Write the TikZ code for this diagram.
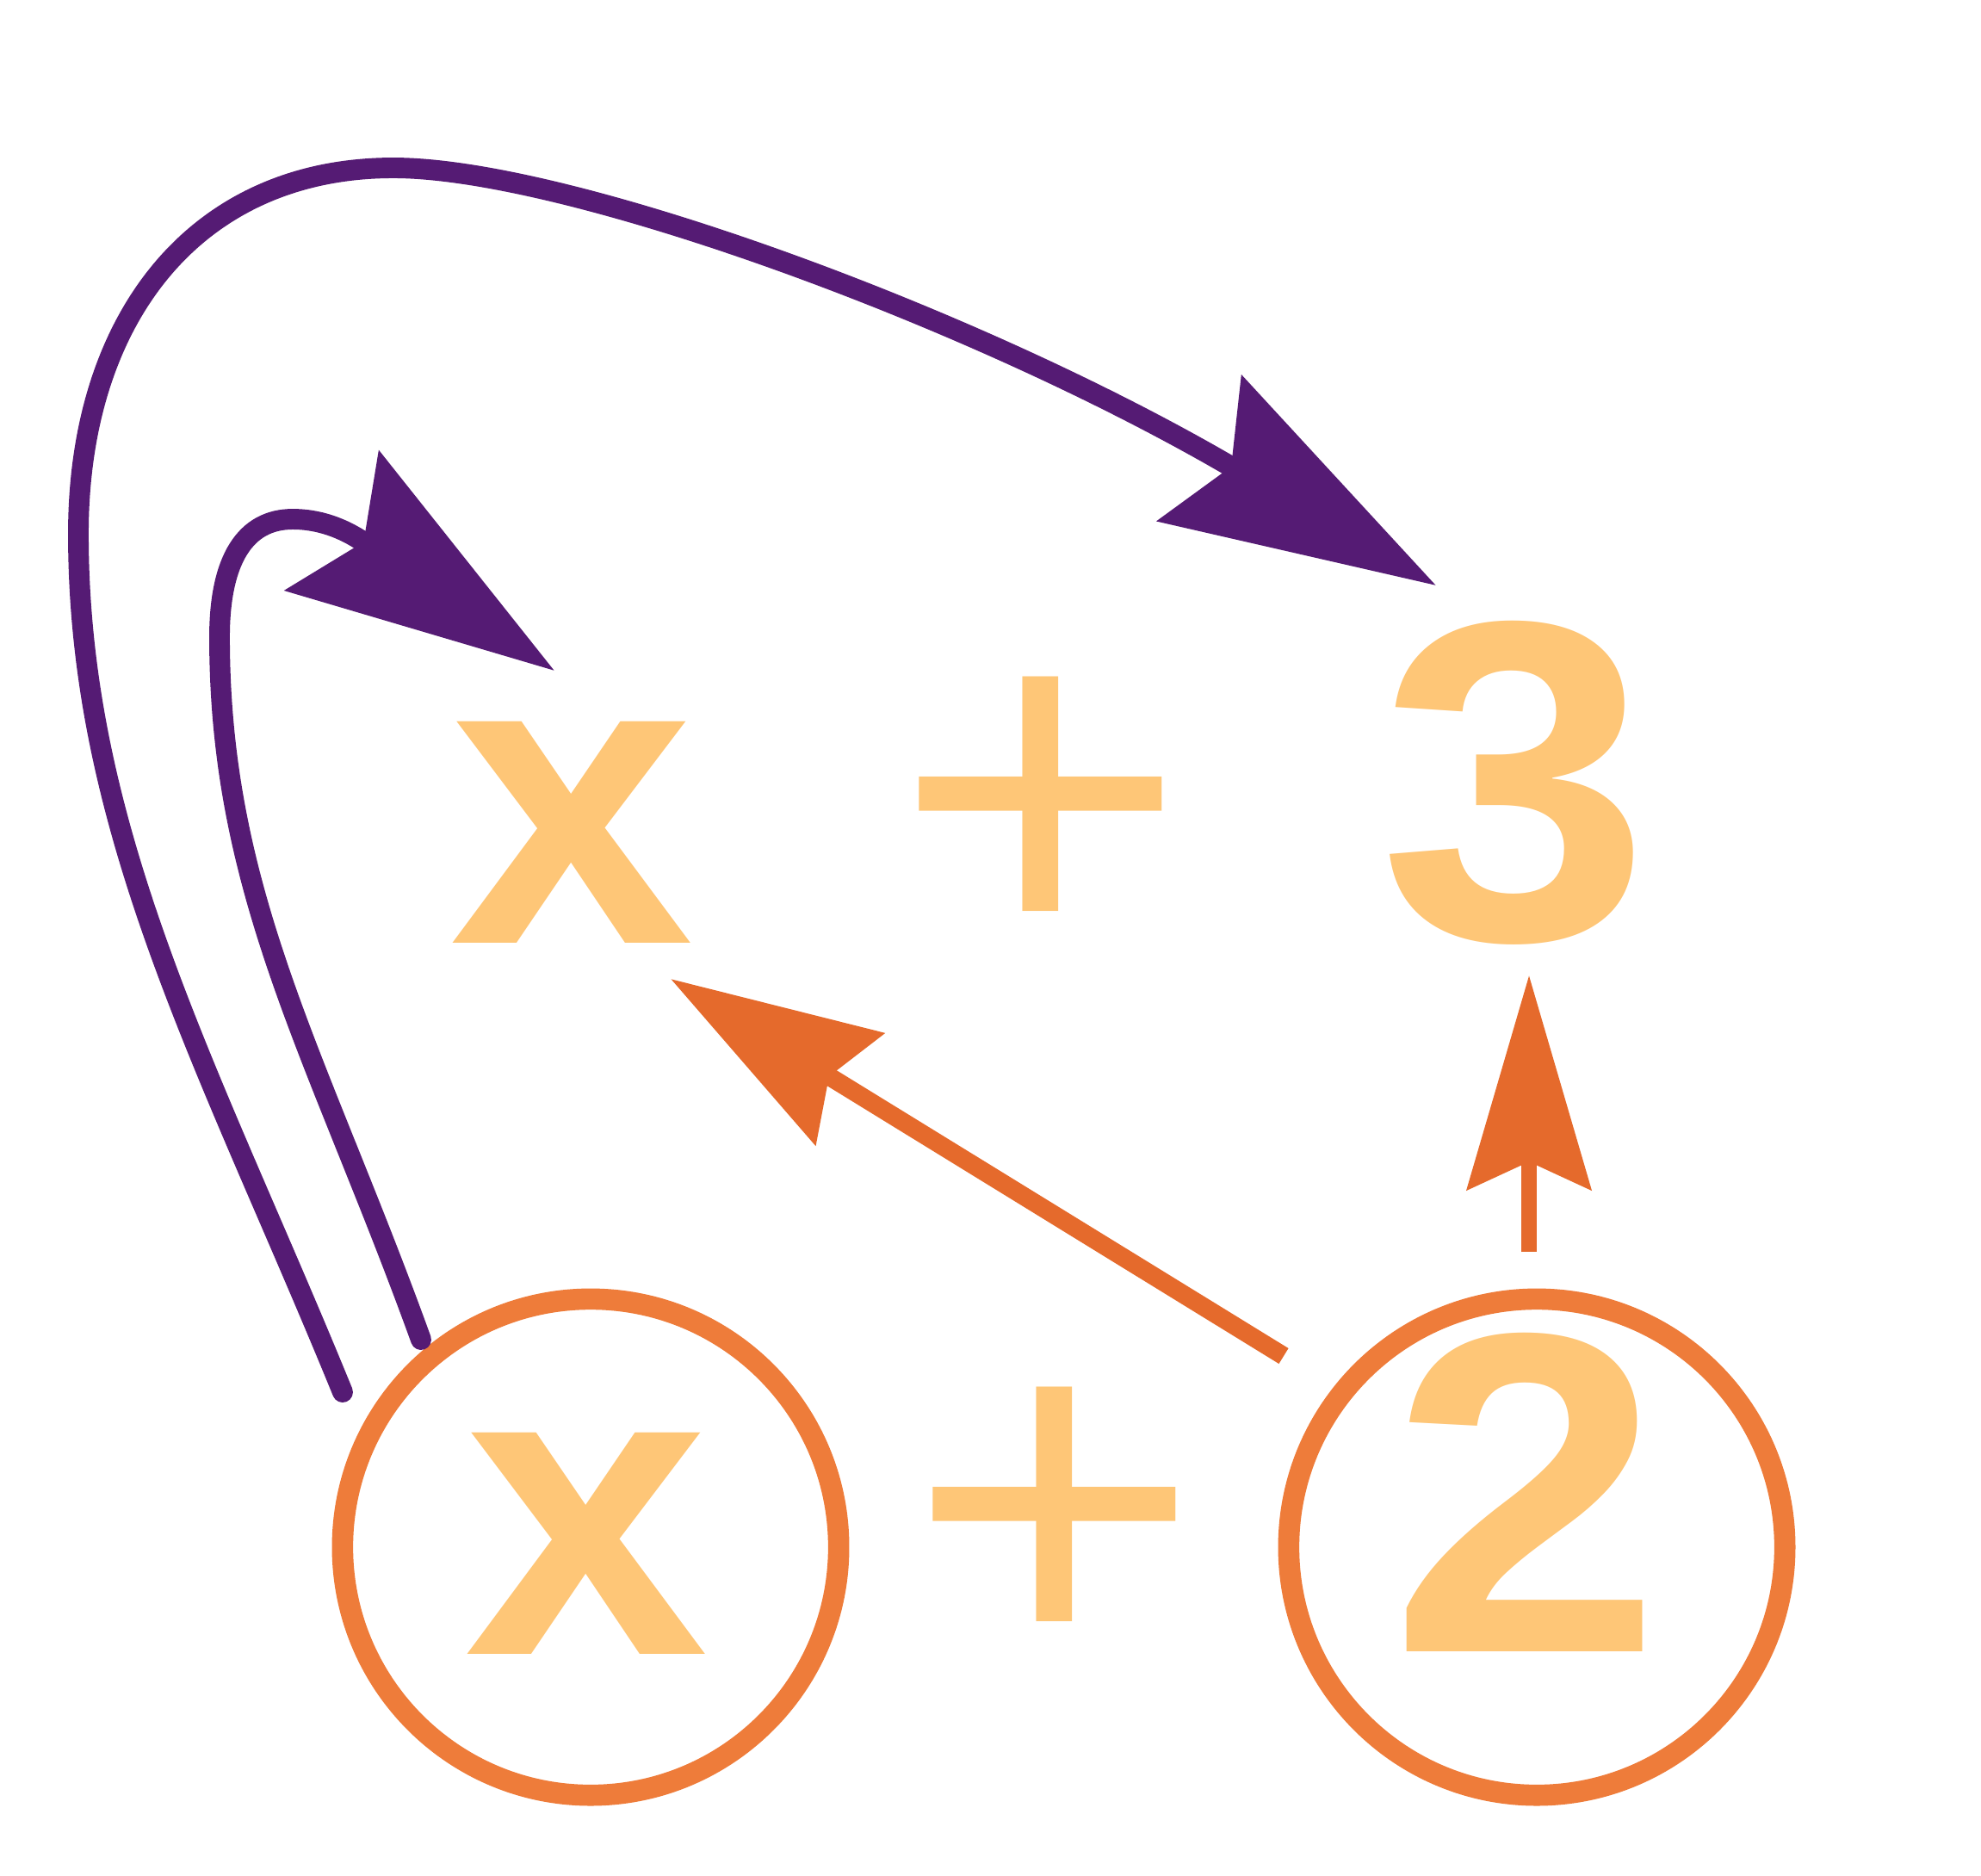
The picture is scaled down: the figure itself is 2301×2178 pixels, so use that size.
\documentclass[tikz,border=0pt]{standalone}
\usepackage{fontspec}
\usepackage{graphicx}
\setmainfont{Liberation Sans}
\usetikzlibrary{arrows.meta}
\definecolor{purp}{HTML}{551B74}
\definecolor{arrc}{HTML}{E56A2C}
\definecolor{ringc}{HTML}{EE7C3A}
\definecolor{txtc}{HTML}{FEC677}
\newcommand{\xglyph}{\scalebox{1.0}[0.955]{\fontsize{145}{150}\selectfont\bfseries x}}
\newcommand{\dglyph}[1]{\scalebox{1.115}[1.04]{\fontsize{145}{150}\selectfont\bfseries #1}}
\newcommand{\pglyph}{\scalebox{1.0}[0.96]{\fontsize{165}{170}\selectfont +}}
\begin{document}
\begin{tikzpicture}[x=0.01cm,y=-0.01cm,
  glyph/.style={text=txtc, inner sep=0pt, outer sep=0pt},
  ring/.style={circle, draw=ringc, line width=7pt, minimum size=5.76cm, inner sep=0pt},
  purpline/.style={draw=purp, line width=6.8pt, line cap=round},
  orline/.style={draw=arrc, line width=6pt},
  bighead/.style={-{Stealth[length=89.9pt,width=54.9pt,inset=11.7pt]}},
  smallhead/.style={-{Stealth[length=88.2pt,width=54.9pt,inset=12.2pt]}},
  diaghead/.style={-{Stealth[length=69.1pt,width=42.7pt,inset=7.7pt]}},
  verthead/.style={-{Stealth[length=70.6pt,width=40.7pt,inset=9.1pt]}}
]
\fill[white] (0,0) rectangle (2301,2178);
\useasboundingbox (0,0) rectangle (2301,2178);

% glyphs
\node[glyph] (tx) at (664,967) {\xglyph};
\node[glyph] (tp) at (1209,947) {\pglyph};
\node[glyph] (t3) at (1760,909) {\dglyph{3}};
\node[glyph] (bx) at (681,1793) {\xglyph};
\node[glyph] (bp) at (1225,1772) {\pglyph};
\node[glyph] (b2) at (1773,1733) {\dglyph{2}};

% rings
\node[ring] (rx) at (686,1797) {};
\node[ring] (r2) at (1785,1797) {};

% connector ends
\coordinate (bigS) at (398,1617);
\coordinate (bigN) at (1430,542);
\coordinate (bigT) at (1668,680);
\coordinate (smS) at (489,1556);
\coordinate (smN) at (423,630);
\coordinate (smT) at (644,779);
\coordinate (dgS) at (1491,1575);
\coordinate (dgT) at (779,1137);
\coordinate (vtS) at (1776,1454);
\coordinate (vtT) at (1776,1133);

% purple big arrow: from circled x over the top to 3
\draw[purpline, bighead] (bigS) .. controls (247,1247) and (91,970) .. (91,620)
  .. controls (91,370) and (227,195) .. (457,195)
  .. controls (657,195) and (1128,366) .. (bigN) -- (bigT);

% purple small arrow: from circled x to top x
\draw[purpline, smallhead] (smS) .. controls (370,1227) and (255,1040) .. (255,740)
  .. controls (255,650) and (285,603) .. (340,603)
  .. controls (370,603) and (398,613) .. (smN) -- (smT);

% orange arrows from circled 2
\draw[orline, diaghead] (dgS) -- (dgT);
\draw[orline, line width=5pt, verthead] (vtS) -- (vtT);
\end{tikzpicture}
\end{document}
